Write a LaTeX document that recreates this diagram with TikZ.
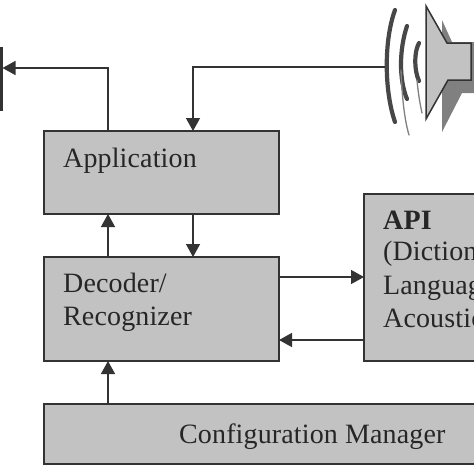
\documentclass[tikz,border=0pt]{standalone}
\usepackage{fontspec}
\setmainfont{Liberation Serif}[LetterSpace=0.5]
\usetikzlibrary{arrows.meta}
\definecolor{boxgray}{gray}{0.76}
\definecolor{shadowgray}{gray}{0.5}
\definecolor{inkgray}{gray}{0.2}
\tikzset{
  blockbox/.style={draw=inkgray,fill=boxgray,line width=1.6pt,rectangle,inner sep=0pt,outer sep=0pt,anchor=north west},
  blocktext/.style={anchor=base west,inner sep=0pt,text=black!85,font=\fontsize{28}{33}\selectfont},
  link/.style={draw=inkgray,line width=1.4pt,-{Triangle[length=13pt,width=14pt]}},
  wave/.style={draw=inkgray!90,line width=4.2pt,line cap=round},
  thinwave/.style={draw=shadowgray,line width=1.3pt,line cap=round}
}
\begin{document}
\begin{tikzpicture}[x=1pt,y=-1pt]
\useasboundingbox (0,0) rectangle (474,474);
\clip (0,0) rectangle (474,474);
\fill[white] (0,0) rectangle (474,474);
% blocks
\node[blockbox,minimum width=235pt,minimum height=83pt] (app) at (44,131) {};
\node[blockbox,minimum width=235pt,minimum height=104pt] (dec) at (44,257) {};
\node[blockbox,minimum width=160pt,minimum height=167pt] (api) at (364,194) {};
\node[blockbox,minimum width=480pt,minimum height=60pt] (cfg) at (44,404) {};
% output bar
\node[fill=inkgray,inner sep=0pt,outer sep=0pt,minimum width=3pt,minimum height=64pt,anchor=north west] (bar) at (-0.5,47) {};
% texts
\node[blocktext] (tapp) at (63,167) {Application};
\node[blocktext] (tdec1) at (63,292) {Decoder/};
\node[blocktext] (tdec2) at (63,325) {Recognizer};
\node[blocktext] (tapi1) at (383,229) {\bfseries API};
\node[blocktext] (tapi2) at (383,260) {(Diction};
\node[blocktext] (tapi3) at (383,294) {Languag};
\node[blocktext] (tapi4) at (383,327) {Acoustic};
\node[blocktext] (tcfg) at (179,443) {Configuration Manager};
% speaker
\fill[shadowgray] (442,20) -- (452,42) -- (474,42) -- (474,93) -- (462,93) -- (442,132) -- cycle;
\draw[draw=inkgray,fill=boxgray,line width=1.5pt,line join=miter] (426,6) -- (447,43) -- (471,43) -- (471,80) -- (448,80) -- (426,119) -- cycle;
\coordinate (spk) at (385,67);
\draw[wave] (395,10) .. controls (384,40) and (384,90) .. (395,122);
\draw[wave] (407,26) .. controls (399,50) and (399,80) .. (407,99);
\draw[thinwave] (401,70) .. controls (402,95) and (404,118) .. (409,135);
\draw[wave] (419,43) .. controls (414,52) and (414,70) .. (419,81);
\draw[thinwave] (417,80) .. controls (418,92) and (420,104) .. (422,113);
% connector guides
\coordinate (xl) at (108,0);
\coordinate (xr) at (193,0);
\coordinate (yt) at (0,68);
\coordinate (yh) at (0,277);
\coordinate (yl) at (0,340);
% connectors
\draw[link] (app.north -| xl) -- (xl |- yt) -- (bar.east |- yt);
\draw[link] (spk) -- (xr |- spk) -- (app.north -| xr);
\draw[link] (dec.north -| xl) -- (app.south -| xl);
\draw[link] (app.south -| xr) -- (dec.north -| xr);
\draw[link] (dec.east |- yh) -- (api.west |- yh);
\draw[link] (api.west |- yl) -- (dec.east |- yl);
\draw[link] (cfg.north -| xl) -- (dec.south -| xl);
\end{tikzpicture}
\end{document}
